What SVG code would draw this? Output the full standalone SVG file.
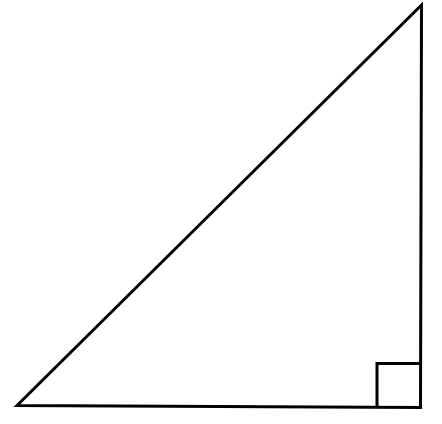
<svg xmlns="http://www.w3.org/2000/svg" width="442" height="424" viewBox="0 0 442 424">
<style>.s{fill:none;stroke:#000;stroke-width:3;stroke-linejoin:miter}</style>
<rect width="442" height="424" fill="#fff"/>
<g id="triangle"><polygon class="s" points="17,405.5 421.5,5 420.5,407.5"/></g>
<g id="right-angle"><polyline class="s" points="377,407 377,363.5 420.5,363.5"/></g>
</svg>
